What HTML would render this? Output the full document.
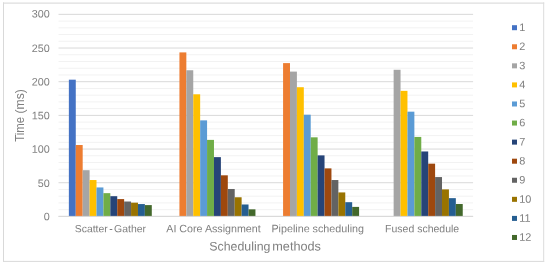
<!DOCTYPE html>
<html><head><meta charset="utf-8"><title>Chart</title>
<style>html,body{margin:0;padding:0;background:#fff;}svg{display:block;}</style></head>
<body>
<svg width="550" height="266" viewBox="0 0 550 266" font-family="Liberation Sans, sans-serif">
<rect x="0" y="0" width="550" height="266" fill="#fff"/>
<line x1="3" x2="544.2" y1="3.1" y2="3.1" stroke="#DEDEDE" stroke-width="1.4"/>
<line x1="3" x2="544.2" y1="261.4" y2="261.4" stroke="#D9D9D9" stroke-width="1"/>
<line x1="3.5" x2="3.5" y1="2.4" y2="261.9" stroke="#D9D9D9" stroke-width="1"/>
<line x1="543.7" x2="543.7" y1="2.4" y2="261.9" stroke="#DCDCDC" stroke-width="1"/>
<line x1="58.5" x2="473.1" y1="216.40" y2="216.40" stroke="#D9D9D9" stroke-width="1"/>
<line x1="58.5" x2="473.1" y1="209.67" y2="209.67" stroke="#F2F2F2" stroke-width="1"/>
<line x1="58.5" x2="473.1" y1="202.93" y2="202.93" stroke="#F2F2F2" stroke-width="1"/>
<line x1="58.5" x2="473.1" y1="196.19" y2="196.19" stroke="#F2F2F2" stroke-width="1"/>
<line x1="58.5" x2="473.1" y1="189.46" y2="189.46" stroke="#F2F2F2" stroke-width="1"/>
<line x1="58.5" x2="473.1" y1="182.73" y2="182.73" stroke="#D9D9D9" stroke-width="1"/>
<line x1="58.5" x2="473.1" y1="175.99" y2="175.99" stroke="#F2F2F2" stroke-width="1"/>
<line x1="58.5" x2="473.1" y1="169.25" y2="169.25" stroke="#F2F2F2" stroke-width="1"/>
<line x1="58.5" x2="473.1" y1="162.52" y2="162.52" stroke="#F2F2F2" stroke-width="1"/>
<line x1="58.5" x2="473.1" y1="155.78" y2="155.78" stroke="#F2F2F2" stroke-width="1"/>
<line x1="58.5" x2="473.1" y1="149.05" y2="149.05" stroke="#D9D9D9" stroke-width="1"/>
<line x1="58.5" x2="473.1" y1="142.31" y2="142.31" stroke="#F2F2F2" stroke-width="1"/>
<line x1="58.5" x2="473.1" y1="135.58" y2="135.58" stroke="#F2F2F2" stroke-width="1"/>
<line x1="58.5" x2="473.1" y1="128.85" y2="128.85" stroke="#F2F2F2" stroke-width="1"/>
<line x1="58.5" x2="473.1" y1="122.11" y2="122.11" stroke="#F2F2F2" stroke-width="1"/>
<line x1="58.5" x2="473.1" y1="115.38" y2="115.38" stroke="#D9D9D9" stroke-width="1"/>
<line x1="58.5" x2="473.1" y1="108.64" y2="108.64" stroke="#F2F2F2" stroke-width="1"/>
<line x1="58.5" x2="473.1" y1="101.91" y2="101.91" stroke="#F2F2F2" stroke-width="1"/>
<line x1="58.5" x2="473.1" y1="95.17" y2="95.17" stroke="#F2F2F2" stroke-width="1"/>
<line x1="58.5" x2="473.1" y1="88.44" y2="88.44" stroke="#F2F2F2" stroke-width="1"/>
<line x1="58.5" x2="473.1" y1="81.70" y2="81.70" stroke="#D9D9D9" stroke-width="1"/>
<line x1="58.5" x2="473.1" y1="74.97" y2="74.97" stroke="#F2F2F2" stroke-width="1"/>
<line x1="58.5" x2="473.1" y1="68.23" y2="68.23" stroke="#F2F2F2" stroke-width="1"/>
<line x1="58.5" x2="473.1" y1="61.50" y2="61.50" stroke="#F2F2F2" stroke-width="1"/>
<line x1="58.5" x2="473.1" y1="54.76" y2="54.76" stroke="#F2F2F2" stroke-width="1"/>
<line x1="58.5" x2="473.1" y1="48.03" y2="48.03" stroke="#D9D9D9" stroke-width="1"/>
<line x1="58.5" x2="473.1" y1="41.29" y2="41.29" stroke="#F2F2F2" stroke-width="1"/>
<line x1="58.5" x2="473.1" y1="34.56" y2="34.56" stroke="#F2F2F2" stroke-width="1"/>
<line x1="58.5" x2="473.1" y1="27.82" y2="27.82" stroke="#F2F2F2" stroke-width="1"/>
<line x1="58.5" x2="473.1" y1="21.09" y2="21.09" stroke="#F2F2F2" stroke-width="1"/>
<line x1="58.5" x2="473.1" y1="14.35" y2="14.35" stroke="#D9D9D9" stroke-width="1"/>
<rect x="68.86" y="79.68" width="6.91" height="136.72" fill="#4472C4"/>
<rect x="75.77" y="145.01" width="6.91" height="71.39" fill="#ED7D31"/>
<rect x="82.69" y="170.20" width="6.91" height="46.20" fill="#A5A5A5"/>
<rect x="89.59" y="180.03" width="6.91" height="36.37" fill="#FFC000"/>
<rect x="96.50" y="187.44" width="6.91" height="28.96" fill="#5B9BD5"/>
<rect x="103.41" y="193.16" width="6.91" height="23.24" fill="#70AD47"/>
<rect x="110.32" y="196.19" width="6.91" height="20.20" fill="#264478"/>
<rect x="117.23" y="199.09" width="6.91" height="17.31" fill="#9E480E"/>
<rect x="124.14" y="201.52" width="6.91" height="14.88" fill="#636363"/>
<rect x="131.06" y="202.66" width="6.91" height="13.74" fill="#997300"/>
<rect x="137.96" y="204.07" width="6.91" height="12.33" fill="#255E91"/>
<rect x="144.88" y="205.09" width="6.91" height="11.31" fill="#43682B"/>
<rect x="179.43" y="52.40" width="6.91" height="164.00" fill="#ED7D31"/>
<rect x="186.34" y="70.25" width="6.91" height="146.15" fill="#A5A5A5"/>
<rect x="193.25" y="94.29" width="6.91" height="122.11" fill="#FFC000"/>
<rect x="200.16" y="120.36" width="6.91" height="96.04" fill="#5B9BD5"/>
<rect x="207.06" y="139.89" width="6.91" height="76.51" fill="#70AD47"/>
<rect x="213.98" y="157.13" width="6.91" height="59.27" fill="#264478"/>
<rect x="220.89" y="175.32" width="6.91" height="41.08" fill="#9E480E"/>
<rect x="227.80" y="188.99" width="6.91" height="27.41" fill="#636363"/>
<rect x="234.71" y="197.27" width="6.91" height="19.13" fill="#997300"/>
<rect x="241.62" y="204.48" width="6.91" height="11.92" fill="#255E91"/>
<rect x="248.53" y="209.33" width="6.91" height="7.07" fill="#43682B"/>
<rect x="283.08" y="63.11" width="6.91" height="153.29" fill="#ED7D31"/>
<rect x="289.99" y="71.60" width="6.91" height="144.80" fill="#A5A5A5"/>
<rect x="296.90" y="87.22" width="6.91" height="129.18" fill="#FFC000"/>
<rect x="303.81" y="114.70" width="6.91" height="101.70" fill="#5B9BD5"/>
<rect x="310.72" y="137.33" width="6.91" height="79.07" fill="#70AD47"/>
<rect x="317.62" y="155.38" width="6.91" height="61.02" fill="#264478"/>
<rect x="324.54" y="168.38" width="6.91" height="48.02" fill="#9E480E"/>
<rect x="331.45" y="180.03" width="6.91" height="36.37" fill="#636363"/>
<rect x="338.36" y="192.42" width="6.91" height="23.98" fill="#997300"/>
<rect x="345.26" y="202.19" width="6.91" height="14.21" fill="#255E91"/>
<rect x="352.18" y="206.90" width="6.91" height="9.50" fill="#43682B"/>
<rect x="393.64" y="69.78" width="6.91" height="146.62" fill="#A5A5A5"/>
<rect x="400.55" y="90.86" width="6.91" height="125.54" fill="#FFC000"/>
<rect x="407.46" y="111.67" width="6.91" height="104.73" fill="#5B9BD5"/>
<rect x="414.37" y="136.93" width="6.91" height="79.47" fill="#70AD47"/>
<rect x="421.28" y="151.47" width="6.91" height="64.93" fill="#264478"/>
<rect x="428.19" y="163.66" width="6.91" height="52.74" fill="#9E480E"/>
<rect x="435.10" y="177.07" width="6.91" height="39.33" fill="#636363"/>
<rect x="442.01" y="189.39" width="6.91" height="27.01" fill="#997300"/>
<rect x="448.92" y="198.15" width="6.91" height="18.25" fill="#255E91"/>
<rect x="455.83" y="204.01" width="6.91" height="12.39" fill="#43682B"/>
<line x1="58.5" x2="473.1" y1="216.40" y2="216.40" stroke="#D9D9D9" stroke-width="1"/>
<text transform="translate(49.7,17.6) rotate(0.05)" font-size="10.8" fill="#7f7f7f" text-anchor="end">300</text>
<text transform="translate(49.7,52.0) rotate(0.05)" font-size="10.8" fill="#7f7f7f" text-anchor="end">250</text>
<text transform="translate(49.7,85.6) rotate(0.05)" font-size="10.8" fill="#7f7f7f" text-anchor="end">200</text>
<text transform="translate(49.7,119.3) rotate(0.05)" font-size="10.8" fill="#7f7f7f" text-anchor="end">150</text>
<text transform="translate(49.7,152.8) rotate(0.05)" font-size="10.8" fill="#7f7f7f" text-anchor="end">100</text>
<text transform="translate(49.7,186.9) rotate(0.05)" font-size="10.8" fill="#7f7f7f" text-anchor="end">50</text>
<text transform="translate(49.7,220.3) rotate(0.05)" font-size="10.8" fill="#7f7f7f" text-anchor="end">0</text>
<text transform="translate(110.35,232.3) rotate(0.05)" font-size="10.45" fill="#7f7f7f" text-anchor="middle">Scatter<tspan dx="1.4">-</tspan><tspan dx="1.4">Gather</tspan></text>
<text transform="translate(213.50,232.3) rotate(0.05)" font-size="10.7" fill="#7f7f7f" text-anchor="middle">AI Core Assignment</text>
<text transform="translate(317.70,232.3) rotate(0.05)" font-size="10.75" fill="#7f7f7f" text-anchor="middle">Pipeline scheduling</text>
<text transform="translate(422.10,232.3) rotate(0.05)" font-size="10.5" fill="#7f7f7f" text-anchor="middle">Fused schedule</text>
<text transform="translate(209.3,250.5) rotate(0.05)" font-size="12.35" fill="#7f7f7f">Scheduling <tspan x="63.0" font-size="12.7">methods</tspan></text>
<text transform="translate(23.8,141.85) rotate(-90) scale(0.935,1)" font-size="12.2" fill="#7f7f7f">Time</text>
<text transform="translate(23.8,113.55) rotate(-90)" font-size="12.2" fill="#7f7f7f">(ms)</text>
<rect x="512" y="25.20" width="5" height="5" fill="#4472C4"/>
<text transform="translate(519.3,31.00) rotate(0.05)" font-size="10.9" fill="#7f7f7f">1</text>
<rect x="512" y="44.27" width="5" height="5" fill="#ED7D31"/>
<text transform="translate(519.3,50.07) rotate(0.05)" font-size="10.9" fill="#7f7f7f">2</text>
<rect x="512" y="63.34" width="5" height="5" fill="#A5A5A5"/>
<text transform="translate(519.3,69.14) rotate(0.05)" font-size="10.9" fill="#7f7f7f">3</text>
<rect x="512" y="82.41" width="5" height="5" fill="#FFC000"/>
<text transform="translate(519.3,88.21) rotate(0.05)" font-size="10.9" fill="#7f7f7f">4</text>
<rect x="512" y="101.48" width="5" height="5" fill="#5B9BD5"/>
<text transform="translate(519.3,107.28) rotate(0.05)" font-size="10.9" fill="#7f7f7f">5</text>
<rect x="512" y="120.55" width="5" height="5" fill="#70AD47"/>
<text transform="translate(519.3,126.35) rotate(0.05)" font-size="10.9" fill="#7f7f7f">6</text>
<rect x="512" y="139.62" width="5" height="5" fill="#264478"/>
<text transform="translate(519.3,145.42) rotate(0.05)" font-size="10.9" fill="#7f7f7f">7</text>
<rect x="512" y="158.69" width="5" height="5" fill="#9E480E"/>
<text transform="translate(519.3,164.49) rotate(0.05)" font-size="10.9" fill="#7f7f7f">8</text>
<rect x="512" y="177.76" width="5" height="5" fill="#636363"/>
<text transform="translate(519.3,183.56) rotate(0.05)" font-size="10.9" fill="#7f7f7f">9</text>
<rect x="512" y="196.83" width="5" height="5" fill="#997300"/>
<text transform="translate(519.3,202.63) rotate(0.05)" font-size="10.9" fill="#7f7f7f">10</text>
<rect x="512" y="215.90" width="5" height="5" fill="#255E91"/>
<text transform="translate(519.3,221.70) rotate(0.05)" font-size="10.9" fill="#7f7f7f">11</text>
<rect x="512" y="234.97" width="5" height="5" fill="#43682B"/>
<text transform="translate(519.3,240.77) rotate(0.05)" font-size="10.9" fill="#7f7f7f">12</text>
</svg>
</body></html>
